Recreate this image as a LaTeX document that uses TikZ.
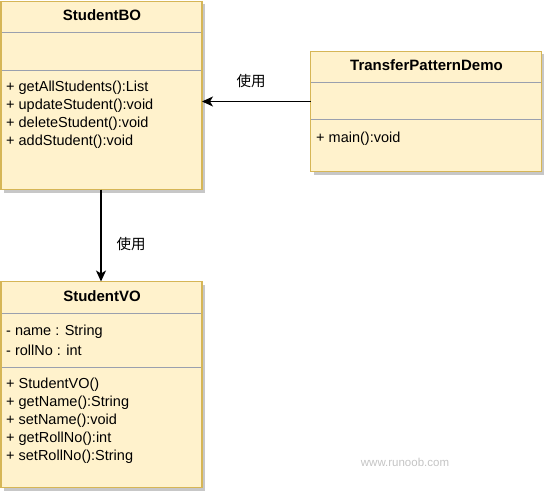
\documentclass[tikz,border=0pt]{standalone}
\usepackage{fontspec}
\setmainfont{Liberation Sans}
\newfontfamily\cjk{Noto Sans CJK SC}
\usetikzlibrary{arrows.meta}
\definecolor{boxfill}{HTML}{FFF2CC}
\definecolor{boxline}{HTML}{D6B656}
\definecolor{divline}{HTML}{9AA0AE}
\definecolor{wmark}{HTML}{C4C4C4}
\tikzset{
  classbox/.style={draw=boxline, fill=boxfill, line width=1.2pt, anchor=north west, inner sep=0pt, outer sep=0pt},
  shadowbox/.style={fill=black, fill opacity=0.22, draw=none, anchor=north west, inner sep=0pt, outer sep=0pt},
  divider/.style={draw=divline, line width=0.9pt},
  member/.style={anchor=west, inner sep=0pt, font=\fontsize{14.5}{17}\selectfont},
  title/.style={inner sep=0pt, font=\fontsize{15}{17}\selectfont\bfseries},
  uses/.style={-{Stealth[length=11pt,width=10pt,inset=3pt]}, line width=1.3pt, black},
  uselabel/.style={inner sep=1pt, font=\fontsize{14.5}{17}\selectfont\cjk}
}
\begin{document}
\begin{tikzpicture}[x=1pt,y=-1pt]
\useasboundingbox (0,0) rectangle (544,495);
% shadows
\node[shadowbox, minimum width=201pt, minimum height=188pt] at (4,4.5) {};
\node[shadowbox, minimum width=231pt, minimum height=120pt] at (313.5,54.5) {};
\node[shadowbox, minimum width=201pt, minimum height=206pt] at (4,284.5) {};
% StudentBO
\node[classbox, minimum width=201pt, minimum height=188pt] (bo) at (1,1.5) {};
\node[title] (botitle) at (102,15) {StudentBO};
\draw[divider] (1.6,32) -- (201.4,32);
\draw[divider] (1.6,70) -- (201.4,70);
\node[member] (bo1) at (6,88) {+ getAllStudents():List};
\node[member] (bo2) at (6,106) {+ updateStudent():void};
\node[member] (bo3) at (6,124) {+ deleteStudent():void};
\node[member] (bo4) at (6,142) {+ addStudent():void};
% TransferPatternDemo
\node[classbox, minimum width=231pt, minimum height=120pt] (tpd) at (310.5,51.5) {};
\node[title] (tpdtitle) at (426.5,65) {TransferPatternDemo};
\draw[divider] (311.1,82) -- (541.4,82);
\draw[divider] (311.1,119) -- (541.4,119);
\node[member] (tpd1) at (316,139) {+ main():void};
% StudentVO
\node[classbox, minimum width=201pt, minimum height=206pt] (vo) at (1,281.5) {};
\node[title] (votitle) at (102,296) {StudentVO};
\draw[divider] (1.6,313) -- (201.4,313);
\draw[divider] (1.6,367) -- (201.4,367);
\node[member] (va1) at (6,332) {- name : String};
\node[member] (va2) at (6,350) {- rollNo : int};
\node[member] (vm1) at (6,385) {+ StudentVO()};
\node[member] (vm2) at (6,403) {+ getName():String};
\node[member] (vm3) at (6,421) {+ setName():void};
\node[member] (vm4) at (6,439) {+ getRollNo():int};
\node[member] (vm5) at (6,457) {+ setRollNo():String};
% connectors
\draw[uses] (tpd.west |- 0,101.5) -- (bo.east |- 0,101.5);
\node[uselabel] (l1) at (251,81) {使用};
\draw[uses] (bo.south -| 101,0) -- (vo.north -| 101,0);
\node[uselabel] (l2) at (131,244) {使用};
% watermark
\node[inner sep=0pt, text=wmark, font=\fontsize{11.5}{13}\selectfont] (wm) at (405,462) {www.runoob.com};
\end{tikzpicture}
\end{document}
